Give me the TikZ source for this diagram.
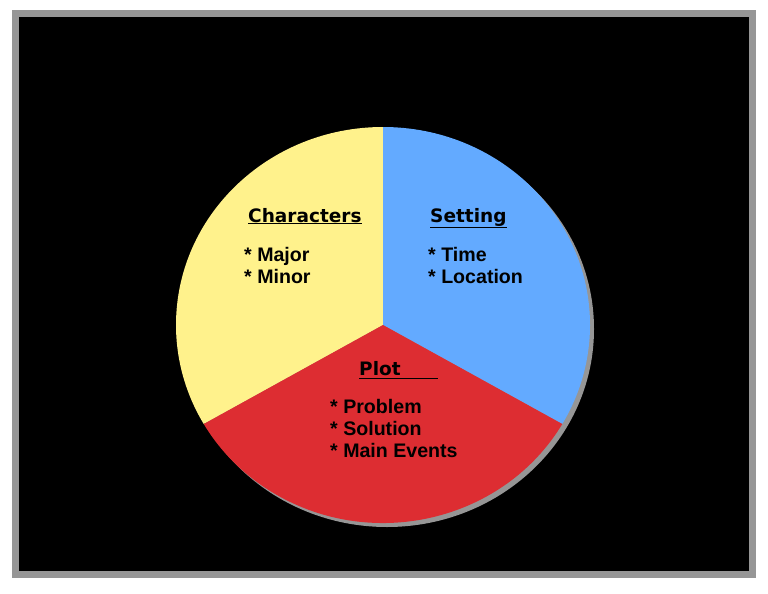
\documentclass[tikz,border=0pt]{standalone}
\usepackage{fontspec}
\setmainfont{Liberation Sans}
\newfontfamily\titlefont{DejaVu Sans}
\usetikzlibrary{calc}
\definecolor{pieYellow}{RGB}{255,242,140}
\definecolor{pieBlue}{RGB}{99,170,255}
\definecolor{pieRed}{RGB}{221,45,50}
\definecolor{frameGray}{RGB}{150,150,150}
\tikzset{
  slicetitle/.style={font=\titlefont\bfseries\fontsize{18.5}{18.5}\selectfont,anchor=base west,inner sep=0pt},
  sliceitems/.style={font=\bfseries\fontsize{19.6}{22}\selectfont,align=left,anchor=north west,inner sep=0pt},
}
\begin{document}
\begin{tikzpicture}[x=1pt,y=-1pt]
        \useasboundingbox (0,0) rectangle (768,594);

        %-------------------------------------------------
        % frame
        %-------------------------------------------------
        \fill[white] (0,0) rectangle (768,594);
        \fill[frameGray] (12,10) rectangle (756,578);
        \fill[black] (19,17) rectangle (749,571);

        %-------------------------------------------------
        % pie
        %-------------------------------------------------
        \coordinate (ctr) at (383,325);
        \fill[frameGray] ($(ctr)+(4,4)$) ellipse [x radius=207, y radius=198];
        \fill[pieYellow] (ctr) -- ++(0,-198) arc[start angle=-90,end angle=-210,x radius=207,y radius=198] -- cycle;
        \fill[pieBlue] (ctr) -- ++(0,-198) arc[start angle=-90,end angle=30,x radius=207,y radius=198] -- cycle;
        \fill[pieRed] (ctr) -- ($(ctr)+(30:207 and 198)$) arc[start angle=30,end angle=150,x radius=207,y radius=198] -- cycle;

        %-------------------------------------------------
        % labels
        %-------------------------------------------------
        \node[slicetitle] (charT) at (248,222) {\underline{Characters}};
        \node[sliceitems] (charL) at (244,247) {* Major\\* Minor};

        \node[slicetitle] (setT) at (430,222) {\underline{Setting}};
        \node[sliceitems] (setL) at (428,247) {* Time\\* Location};

        \node[slicetitle] (plotT) at (359,375) {Plot};
        \draw[black,line width=1pt] (359,378) -- (438,378);
        \node[sliceitems] (plotL) at (330,399) {* Problem\\* Solution\\* Main Events};
\end{tikzpicture}
\end{document}
